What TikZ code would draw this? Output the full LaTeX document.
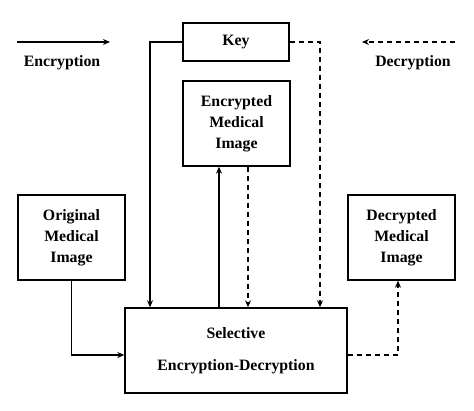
\documentclass[tikz,border=0pt]{standalone}
\usepackage{fontspec}
\setmainfont{Liberation Serif}
\usetikzlibrary{arrows.meta}
\begin{document}
\begin{tikzpicture}[x=1pt,y=-1pt,
  box/.style={draw, line width=1.4pt, inner sep=0pt, font=\fontsize{15.8}{21}\selectfont\bfseries, align=center},
  lbl/.style={font=\fontsize{15.8}{21}\selectfont\bfseries, inner sep=0pt},
  conn/.style={line width=1.4pt, -{Stealth[length=7pt,width=6pt]}},
  dconn/.style={conn, dash pattern=on 5pt off 4pt}]
\useasboundingbox (0,0) rectangle (474,411);
\node[box, minimum width=106pt, minimum height=38pt] (key) at (236,42) {Key};
\node[box, minimum width=107pt, minimum height=85pt] (enc) at (236.5,123.5) {Encrypted\\Medical\\Image};
\node[box, minimum width=107pt, minimum height=85pt] (orig) at (71.5,237.5) {Original\\Medical\\Image};
\node[box, minimum width=107pt, minimum height=85pt] (dec) at (401.5,237.5) {Decrypted\\Medical\\Image};
\node[box, minimum width=222pt, minimum height=85pt, font=\fontsize{15.8}{32}\selectfont\bfseries] (sel) at (236,350.5) {Selective\\Encryption-Decryption};
\coordinate (ea1) at (17,42);
\coordinate (ea2) at (110,42);
\coordinate (da1) at (455,42);
\coordinate (da2) at (362,42);
\coordinate (kl) at (150,0);
\coordinate (kr) at (320,0);
\coordinate (up) at (219,0);
\coordinate (dn) at (248,0);
\coordinate (ol) at (0,355);
\coordinate (dr) at (398,0);
\draw[conn] (ea1) -- (ea2);
\draw[dconn] (da1) -- (da2);
\node[lbl] (elab) at (62,63) {Encryption};
\node[lbl] (dlab) at (413,63) {Decryption};
\draw[conn] (key.west) -| (kl |- sel.north);
\draw[dconn] (key.east) -| (kr |- sel.north);
\draw[conn] (up |- sel.north) -- (up |- enc.south);
\draw[dconn] (dn |- enc.south) -- (dn |- sel.north);
\draw[conn] (orig.south) |- (sel.west |- ol);
\draw[dconn] (sel.east |- ol) -| (dr |- dec.south);
\end{tikzpicture}
\end{document}
